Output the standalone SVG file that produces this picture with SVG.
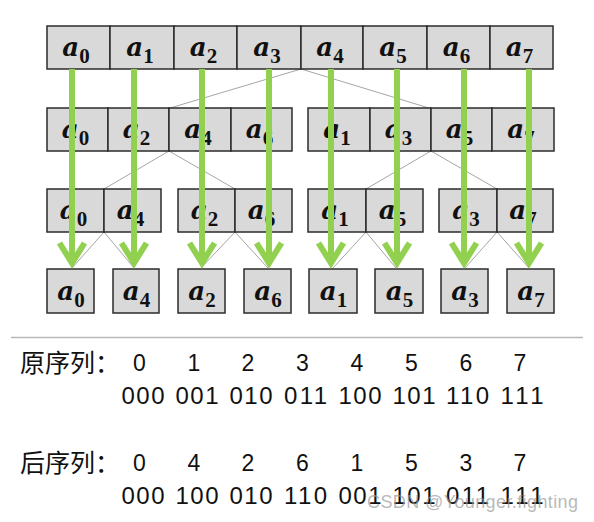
<svg xmlns="http://www.w3.org/2000/svg" width="594" height="522" viewBox="0 0 594 522">
<style>
.cell{fill:#d9d9d9;stroke:#2b2b2b;stroke-width:1.5}
.lbl{font-family:"DejaVu Serif","Liberation Serif",serif;font-style:italic;font-weight:bold;font-size:26px;fill:#111;text-anchor:middle}
.sub{font-family:"Liberation Serif",serif;font-style:normal;font-weight:bold;font-size:21px}
.gl{stroke:#a6a6a6;stroke-width:1;fill:none}
.ar{stroke:#92d050;stroke-width:6;fill:none;stroke-linejoin:miter}
.dg{font-family:"Liberation Sans",Arial,sans-serif;font-size:23px;fill:#111;text-anchor:middle}
.bn{font-family:"Liberation Sans",Arial,sans-serif;font-size:24px;fill:#111;text-anchor:middle}
.cn{font-family:"Noto Sans CJK SC","Noto Sans",sans-serif;font-size:25px;fill:#111}
.wm{font-family:"Liberation Sans",Arial,sans-serif;font-size:18px;fill:#999;fill-opacity:0.7}
</style>
<rect width="594" height="522" fill="#fff"/>
<g id="connectors">
<path class="gl" d="M301,69 L170,108 M301,69 L429,108"/>
<path class="gl" d="M169,151 L104,189 M169,151 L235,189 M431,151 L366,189 M431,151 L497,189"/>
<path class="gl" d="M104,232 L72,268 M104,232 L134,268 M235,232 L201,268 M235,232 L268,268 M366,232 L333,268 M366,232 L396,268 M497,232 L465,268 M497,232 L529,268"/>
</g>
<g id="row1">
<g id="r1c0"><rect class="cell" x="47" y="26" width="63" height="43"/><text class="lbl" x="76" y="56">a<tspan class="sub" dy="7">0</tspan></text></g>
<g id="r1c1"><rect class="cell" x="110" y="26" width="64" height="43"/><text class="lbl" x="140" y="56">a<tspan class="sub" dy="7">1</tspan></text></g>
<g id="r1c2"><rect class="cell" x="174" y="26" width="63" height="43"/><text class="lbl" x="203.5" y="56">a<tspan class="sub" dy="7">2</tspan></text></g>
<g id="r1c3"><rect class="cell" x="237" y="26" width="64" height="43"/><text class="lbl" x="267" y="56">a<tspan class="sub" dy="7">3</tspan></text></g>
<g id="r1c4"><rect class="cell" x="301" y="26" width="62" height="43"/><text class="lbl" x="330" y="56">a<tspan class="sub" dy="7">4</tspan></text></g>
<g id="r1c5"><rect class="cell" x="363" y="26" width="64" height="43"/><text class="lbl" x="393" y="56">a<tspan class="sub" dy="7">5</tspan></text></g>
<g id="r1c6"><rect class="cell" x="427" y="26" width="63" height="43"/><text class="lbl" x="456.5" y="56">a<tspan class="sub" dy="7">6</tspan></text></g>
<g id="r1c7"><rect class="cell" x="490" y="26" width="63" height="43"/><text class="lbl" x="519.5" y="56">a<tspan class="sub" dy="7">7</tspan></text></g>
</g>
<g id="row2">
<g id="r2c0"><rect class="cell" x="47" y="108" width="61" height="43"/><text class="lbl" x="75.5" y="138">a<tspan class="sub" dy="7">0</tspan></text></g>
<g id="r2c1"><rect class="cell" x="108" y="108" width="61" height="43"/><text class="lbl" x="136.5" y="138">a<tspan class="sub" dy="7">2</tspan></text></g>
<g id="r2c2"><rect class="cell" x="169" y="108" width="62" height="43"/><text class="lbl" x="198" y="138">a<tspan class="sub" dy="7">4</tspan></text></g>
<g id="r2c3"><rect class="cell" x="231" y="108" width="61" height="43"/><text class="lbl" x="259.5" y="138">a<tspan class="sub" dy="7">6</tspan></text></g>
<g id="r2c4"><rect class="cell" x="308" y="108" width="62" height="43"/><text class="lbl" x="337" y="138">a<tspan class="sub" dy="7">1</tspan></text></g>
<g id="r2c5"><rect class="cell" x="370" y="108" width="61" height="43"/><text class="lbl" x="398.5" y="138">a<tspan class="sub" dy="7">3</tspan></text></g>
<g id="r2c6"><rect class="cell" x="431" y="108" width="61" height="43"/><text class="lbl" x="459.5" y="138">a<tspan class="sub" dy="7">5</tspan></text></g>
<g id="r2c7"><rect class="cell" x="492" y="108" width="62" height="43"/><text class="lbl" x="521" y="138">a<tspan class="sub" dy="7">7</tspan></text></g>
</g>
<g id="row3">
<g id="r3c0"><rect class="cell" x="47" y="189" width="57" height="43"/><text class="lbl" x="73.5" y="219">a<tspan class="sub" dy="7">0</tspan></text></g>
<g id="r3c1"><rect class="cell" x="104" y="189" width="57" height="43"/><text class="lbl" x="130.5" y="219">a<tspan class="sub" dy="7">4</tspan></text></g>
<g id="r3c2"><rect class="cell" x="178" y="189" width="57" height="43"/><text class="lbl" x="204.5" y="219">a<tspan class="sub" dy="7">2</tspan></text></g>
<g id="r3c3"><rect class="cell" x="235" y="189" width="57" height="43"/><text class="lbl" x="261.5" y="219">a<tspan class="sub" dy="7">6</tspan></text></g>
<g id="r3c4"><rect class="cell" x="308" y="189" width="58" height="43"/><text class="lbl" x="335" y="219">a<tspan class="sub" dy="7">1</tspan></text></g>
<g id="r3c5"><rect class="cell" x="366" y="189" width="57" height="43"/><text class="lbl" x="392.5" y="219">a<tspan class="sub" dy="7">5</tspan></text></g>
<g id="r3c6"><rect class="cell" x="439" y="189" width="58" height="43"/><text class="lbl" x="466" y="219">a<tspan class="sub" dy="7">3</tspan></text></g>
<g id="r3c7"><rect class="cell" x="497" y="189" width="56" height="43"/><text class="lbl" x="523" y="219">a<tspan class="sub" dy="7">7</tspan></text></g>
</g>
<g id="row4">
<g id="r4c0"><rect class="cell" x="47" y="269" width="47" height="44"/><text class="lbl" x="71" y="300">a<tspan class="sub" dy="7">0</tspan></text></g>
<g id="r4c1"><rect class="cell" x="113" y="269" width="46" height="44"/><text class="lbl" x="136.5" y="300">a<tspan class="sub" dy="7">4</tspan></text></g>
<g id="r4c2"><rect class="cell" x="178" y="269" width="47" height="44"/><text class="lbl" x="202" y="300">a<tspan class="sub" dy="7">2</tspan></text></g>
<g id="r4c3"><rect class="cell" x="244" y="269" width="47" height="44"/><text class="lbl" x="268" y="300">a<tspan class="sub" dy="7">6</tspan></text></g>
<g id="r4c4"><rect class="cell" x="309" y="269" width="48" height="44"/><text class="lbl" x="333.5" y="300">a<tspan class="sub" dy="7">1</tspan></text></g>
<g id="r4c5"><rect class="cell" x="375" y="269" width="48" height="44"/><text class="lbl" x="399.5" y="300">a<tspan class="sub" dy="7">5</tspan></text></g>
<g id="r4c6"><rect class="cell" x="441" y="269" width="47" height="44"/><text class="lbl" x="465" y="300">a<tspan class="sub" dy="7">3</tspan></text></g>
<g id="r4c7"><rect class="cell" x="507" y="269" width="47" height="44"/><text class="lbl" x="531" y="300">a<tspan class="sub" dy="7">7</tspan></text></g>
</g>
<g id="arrows">
<path class="ar" d="M72,69 V263 M59.5,243 L72,263 L84.5,243"/>
<path class="ar" d="M134,69 V263 M121.5,243 L134,263 L146.5,243"/>
<path class="ar" d="M202,69 V263 M189.5,243 L202,263 L214.5,243"/>
<path class="ar" d="M269,69 V263 M256.5,243 L269,263 L281.5,243"/>
<path class="ar" d="M331,69 V263 M318.5,243 L331,263 L343.5,243"/>
<path class="ar" d="M397,69 V263 M384.5,243 L397,263 L409.5,243"/>
<path class="ar" d="M464,69 V263 M451.5,243 L464,263 L476.5,243"/>
<path class="ar" d="M529,69 V263 M516.5,243 L529,263 L541.5,243"/>
</g>
<line x1="11" y1="337.5" x2="583" y2="337.5" stroke="#b8b8b8" stroke-width="1.5"/>
<g id="table">
<text class="cn" x="20" y="372">原序列：</text>
<g class="dg">
<text x="139.5" y="371">0</text><text x="194" y="371">1</text><text x="248" y="371">2</text><text x="302.5" y="371">3</text><text x="357" y="371">4</text><text x="411.5" y="371">5</text><text x="466" y="371">6</text><text x="520" y="371">7</text>
</g>
<g class="bn">
<text x="143" y="404" textLength="43">000</text><text x="197" y="404" textLength="43">001</text><text x="251" y="404" textLength="43">010</text><text x="305.5" y="404" textLength="43">011</text><text x="360" y="404" textLength="43">100</text><text x="414" y="404" textLength="43">101</text><text x="467.5" y="404" textLength="43">110</text><text x="522" y="404" textLength="43">111</text>
</g>
<text class="cn" x="20" y="472">后序列：</text>
<g class="dg">
<text x="139.5" y="471">0</text><text x="194" y="471">4</text><text x="248" y="471">2</text><text x="302.5" y="471">6</text><text x="357" y="471">1</text><text x="411.5" y="471">5</text><text x="466" y="471">3</text><text x="520" y="471">7</text>
</g>
<g class="bn">
<text x="143" y="504" textLength="43">000</text><text x="197" y="504" textLength="43">100</text><text x="251" y="504" textLength="43">010</text><text x="305.5" y="504" textLength="43">110</text><text x="360" y="504" textLength="43">001</text><text x="414" y="504" textLength="43">101</text><text x="467.5" y="504" textLength="43">011</text><text x="522" y="504" textLength="43">111</text>
</g>
<text class="wm" x="367" y="508" textLength="211">CSDN @Younger.fighting</text>
</g>
</svg>
